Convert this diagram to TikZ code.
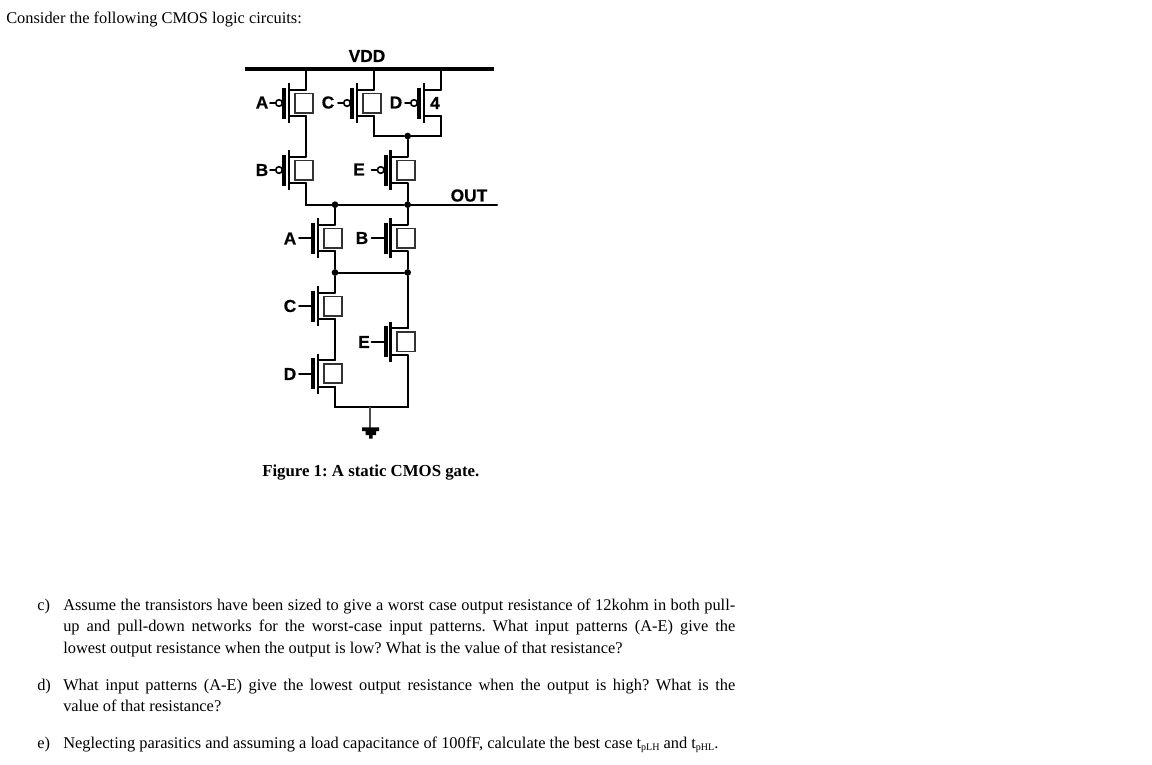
\documentclass[tikz,border=0pt]{standalone}
\usepackage{fontspec}
\setmainfont{Liberation Serif}
\newfontfamily\pinfont[BoldFeatures={FakeBold=0.5}]{Liberation Sans}
\frenchspacing
\newcommand{\fetcore}{
	\draw[gatebar] (-22,-15.5) -- (-22,15.5);
	\draw[chanbar] (-17,-20) -- (-17,20);
	\draw[wire] (-17,-13.3) -- (0,-13.3) coordinate (-s);
	\draw[wire] (-17,13.3) -- (0,13.3) coordinate (-d);
}
\newcommand{\fetbox}{
	\draw[bodybox] (-11,-9.7) rectangle (7,9.7);
}
\newcommand{\lowtext}[1]{\raisebox{-2pt}{\fontsize{7.5}{7.5}\selectfont #1}}
\tikzset{
	wire/.style={line width=1.5pt, line cap=round},
	gatebar/.style={line width=3pt},
	chanbar/.style={line width=2.2pt},
	bodybox/.style={draw=black!80, line width=1.2pt},
	pinlabel/.style={font=\pinfont\bfseries\fontsize{13}{13}\selectfont, inner sep=0pt},
	para/.style={font=\fontsize{12.3}{12.3}\selectfont, inner sep=0pt, anchor=base west},
	junction/.style={circle, fill=black, inner sep=0pt, minimum size=5pt},
	pics/pfetbare/.style={code={
		\fetcore
		\draw[wire] (-36,0) -- (-30.3,0);
		\draw[line width=1.2pt] (-27,0) circle (3.3);
	}},
	pics/pfet/.style={code={
		\fetcore \fetbox
		\draw[wire] (-36,0) -- (-30.3,0);
		\draw[line width=1.2pt] (-27,0) circle (3.3);
	}},
	pics/nfet/.style={code={
		\fetcore \fetbox
		\draw[wire] (-36,0) -- (-22,0);
	}},
}
\begin{document}
\begin{tikzpicture}[x=0.75pt, y=-0.75pt]
	\useasboundingbox (0,0) rectangle (1152,764);
	% pull-up
	\draw[line width=2.8pt] (245,69) coordinate (vl) -- (494,69) coordinate (vr);
	\node[pinlabel] (vdd) at (367,56) {VDD};
	\pic (pa) at (306,103) {pfet};
	\pic (pc) at (374,103) {pfet};
	\pic (pd) at (441,103) {pfetbare};
	\pic (pb) at (306,170) {pfet};
	\pic (pe) at (407.7,170) {pfet};
	\node[pinlabel] (la) at (262,102.5) {A};
	\node[pinlabel] (lc) at (328,102.5) {C};
	\node[pinlabel] (ld) at (396,102.5) {D};
	\node[pinlabel] (four) at (435,103) {4};
	\node[pinlabel] (lb) at (262,170) {B};
	\node[pinlabel] (le) at (359,169.5) {E};
	\draw[wire] (pa-s) -- (pa-s |- vl);
	\draw[wire] (pc-s) -- (pc-s |- vl);
	\draw[wire] (pd-s) -- (pd-s |- vl);
	\draw[wire] (pa-d) -- (pb-s);
	\node[junction] (jtop) at (407.7,136) {};
	\draw[wire] (pc-d) |- (jtop) -| (pd-d);
	\draw[wire] (jtop) -- (pe-s);
	% output
	\node[junction] (jl) at (335,204.7) {};
	\node[junction] (jr) at (407.7,204.7) {};
	\coordinate (outend) at (497,204.7);
	\draw[wire] (pb-d) |- (jl) -- (jr) -- (outend);
	\draw[wire] (pe-d) -- (jr);
	\node[pinlabel] (out) at (469,195.5) {OUT};
	% pull-down
	\pic (na) at (335,238) {nfet};
	\pic (nb) at (407.7,238) {nfet};
	\pic (nc) at (335,306) {nfet};
	\pic (ne) at (407.7,341.7) {nfet};
	\pic (nd) at (335,373.5) {nfet};
	\node[pinlabel] (lna) at (290,238.5) {A};
	\node[pinlabel] (lnb) at (362,238) {B};
	\node[pinlabel] (lnc) at (290,306) {C};
	\node[pinlabel] (lne) at (364,342) {E};
	\node[pinlabel] (lnd) at (290,374) {D};
	\draw[wire] (jl) -- (na-s);
	\draw[wire] (jr) -- (nb-s);
	\node[junction] (jml) at (335,272.5) {};
	\node[junction] (jmr) at (407.7,272.5) {};
	\draw[wire] (na-d) -- (jml) -- (jmr);
	\draw[wire] (nb-d) -- (jmr) -- (ne-s);
	\draw[wire] (jml) -- (nc-s);
	\draw[wire] (nc-d) -- (nd-s);
	\coordinate (gnd) at (370.3,407);
	\draw[wire] (nd-d) |- (gnd) -| (ne-d);
	% ground
	\draw[line width=1.5pt, black!70] (gnd) -- (370.3,428);
	\fill (362,427.3) -- (379,427.3) -- (379,431) -- (376,431) -- (376,435) -- (372.7,435) -- (372.7,438.7) -- (369,438.7) -- (369,435) -- (365.7,435) -- (365.7,431) -- (362,431) -- cycle;
	% text
	\node[para] (intro) at (6,23) {Consider the following CMOS logic circuits:};
	\node[para, font=\fontsize{12.6}{12.6}\selectfont\bfseries] (cap) at (262,476) {Figure 1: A static CMOS gate.};
	\node[para] (c) at (37,610) {c)};
	\node[para] (c1) at (63,610) {\makebox[504pt][s]{Assume the transistors have been sized to give a worst case output resistance of 12kohm in both pull-}};
	\node[para] (c2) at (63,631) {\makebox[504pt][s]{up and pull-down networks for the worst-case input patterns. What input patterns (A-E) give the}};
	\node[para] (c3) at (63,653) {lowest output resistance when the output is low? What is the value of that resistance?};
	\node[para] (d) at (37,690) {d)};
	\node[para] (d1) at (63,690) {\makebox[504pt][s]{What input patterns (A-E) give the lowest output resistance when the output is high? What is the}};
	\node[para] (d2) at (63,711) {value of that resistance?};
	\node[para] (e) at (37,748) {e)};
	\node[para] (e1) at (63,748) {Neglecting parasitics and assuming a load capacitance of 100fF, calculate the best case t\lowtext{pLH} and t\lowtext{pHL}.};
\end{tikzpicture}
\end{document}
